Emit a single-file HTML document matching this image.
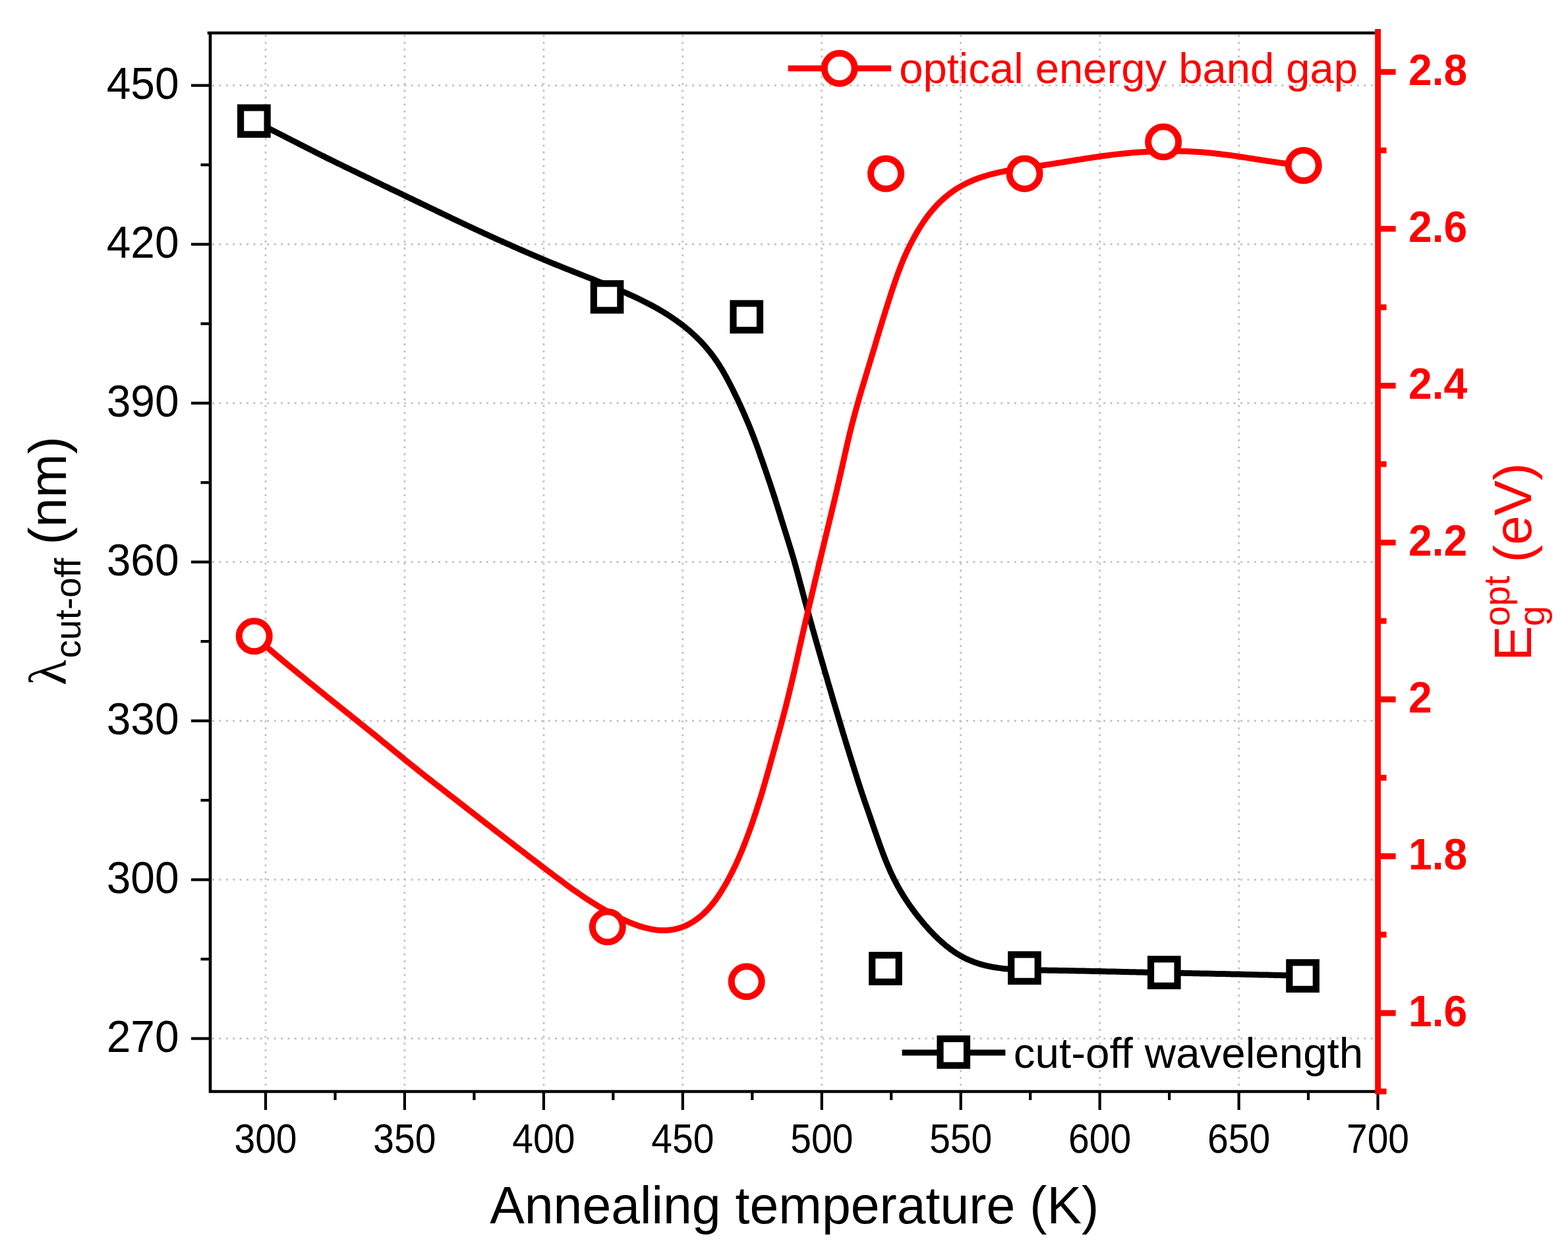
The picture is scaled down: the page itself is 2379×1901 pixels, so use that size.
<!DOCTYPE html>
<html><head><meta charset="utf-8"><title>Annealing temperature plot</title>
<style>html,body{margin:0;padding:0;background:#fff;overflow:hidden}svg{display:block}</style>
</head><body>
<svg width="2379" height="1901" viewBox="0 0 2379 1901">
<rect width="2379" height="1901" fill="#fff"/>
<path d="M403.0,53.0 V1654.0 M613.9,53.0 V1654.0 M824.9,53.0 V1654.0 M1035.8,53.0 V1654.0 M1246.8,53.0 V1654.0 M1457.7,53.0 V1654.0 M1668.6,53.0 V1654.0 M1879.6,53.0 V1654.0 M322.0,1575.6 H2086.6 M322.0,1334.6 H2086.6 M322.0,1093.7 H2086.6 M322.0,852.7 H2086.6 M322.0,611.7 H2086.6 M322.0,370.7 H2086.6 M322.0,129.7 H2086.6" stroke="#c2c2c2" stroke-width="2.8" stroke-dasharray="3 7.4" fill="none"/>
<path d="M385.4,183.7 L388.9,185.3 L392.3,187.1 L395.8,188.8 L399.2,190.6 L402.6,192.3 L406.1,194.0 L409.5,195.8 L412.9,197.5 L416.4,199.3 L419.8,201.0 L423.2,202.8 L426.7,204.5 L430.1,206.3 L433.5,208.1 L437.0,209.8 L440.4,211.6 L443.8,213.3 L447.3,215.1 L450.7,216.8 L454.1,218.6 L457.6,220.3 L461.0,222.1 L464.4,223.8 L467.9,225.5 L471.3,227.3 L474.8,229.0 L478.2,230.8 L481.6,232.5 L485.1,234.2 L488.5,235.9 L492.0,237.6 L495.4,239.4 L498.9,241.1 L502.3,242.8 L505.8,244.5 L509.3,246.2 L512.7,247.9 L516.2,249.5 L519.7,251.2 L523.1,252.9 L526.6,254.6 L530.1,256.3 L533.5,258.0 L537.0,259.6 L540.5,261.3 L543.9,263.0 L547.4,264.7 L550.9,266.3 L554.3,268.0 L557.8,269.7 L561.3,271.3 L564.8,273.0 L568.2,274.7 L571.7,276.4 L575.2,278.0 L578.7,279.7 L582.1,281.4 L585.6,283.1 L589.1,284.7 L592.5,286.4 L596.0,288.1 L599.5,289.7 L603.0,291.4 L606.4,293.1 L609.9,294.7 L613.4,296.4 L616.9,298.1 L620.3,299.8 L623.8,301.4 L627.3,303.1 L630.7,304.8 L634.2,306.4 L637.7,308.1 L641.2,309.8 L644.6,311.4 L648.1,313.1 L651.6,314.8 L655.1,316.4 L658.5,318.1 L662.0,319.8 L665.5,321.4 L669.0,323.1 L672.4,324.7 L675.9,326.4 L679.4,328.1 L682.9,329.7 L686.3,331.4 L689.8,333.1 L693.3,334.7 L696.8,336.4 L700.3,338.0 L703.7,339.7 L707.2,341.3 L710.7,343.0 L714.2,344.6 L717.7,346.2 L721.2,347.9 L724.7,349.5 L728.2,351.1 L731.7,352.7 L735.2,354.3 L738.7,355.9 L742.2,357.5 L745.7,359.1 L749.2,360.7 L752.7,362.3 L756.2,363.9 L759.8,365.5 L763.3,367.0 L766.8,368.6 L770.3,370.2 L773.8,371.7 L777.4,373.3 L780.9,374.9 L784.4,376.4 L787.9,378.0 L791.5,379.5 L795.0,381.0 L798.5,382.6 L802.1,384.1 L805.6,385.6 L809.1,387.2 L812.7,388.7 L816.2,390.2 L819.8,391.7 L823.3,393.2 L826.9,394.7 L830.4,396.1 L834.0,397.6 L837.6,399.1 L841.1,400.5 L844.7,402.0 L848.3,403.4 L851.9,404.8 L855.4,406.3 L859.0,407.7 L862.6,409.1 L866.2,410.5 L869.8,412.0 L873.3,413.4 L876.9,414.8 L880.5,416.2 L884.1,417.6 L887.7,419.1 L891.3,420.5 L894.9,421.9 L898.4,423.3 L902.0,424.7 L905.6,426.2 L909.2,427.6 L912.8,429.0 L916.3,430.5 L919.9,431.9 L923.5,433.4 L927.1,434.8 L930.6,436.3 L934.2,437.8 L937.7,439.3 L941.3,440.8 L944.8,442.4 L948.4,443.9 L951.9,445.5 L955.4,447.0 L958.9,448.6 L962.4,450.2 L965.9,451.9 L969.4,453.5 L972.9,455.2 L976.3,456.9 L979.8,458.7 L983.2,460.4 L986.6,462.2 L990.0,464.0 L993.4,465.9 L996.8,467.8 L1000.1,469.7 L1003.4,471.6 L1006.8,473.6 L1010.0,475.7 L1013.3,477.7 L1016.5,479.8 L1019.7,481.9 L1022.9,484.1 L1026.1,486.3 L1029.2,488.6 L1032.3,490.9 L1035.4,493.2 L1038.4,495.6 L1041.4,498.0 L1044.3,500.4 L1047.3,502.9 L1050.1,505.5 L1053.0,508.1 L1055.8,510.7 L1058.5,513.4 L1061.2,516.1 L1063.9,518.8 L1066.5,521.6 L1069.1,524.5 L1071.6,527.4 L1074.0,530.3 L1076.5,533.3 L1078.8,536.3 L1081.1,539.3 L1083.4,542.4 L1085.6,545.6 L1087.8,548.7 L1089.9,551.9 L1091.9,555.2 L1094.0,558.4 L1096.0,561.7 L1097.9,565.0 L1099.8,568.4 L1101.7,571.8 L1103.5,575.1 L1105.3,578.5 L1107.1,582.0 L1108.9,585.4 L1110.6,588.9 L1112.3,592.3 L1114.0,595.8 L1115.7,599.3 L1117.4,602.8 L1119.1,606.2 L1120.7,609.7 L1122.4,613.2 L1124.0,616.8 L1125.6,620.3 L1127.2,623.8 L1128.7,627.3 L1130.3,630.9 L1131.8,634.4 L1133.3,638.0 L1134.8,641.5 L1136.3,645.1 L1137.8,648.7 L1139.2,652.2 L1140.6,655.8 L1142.0,659.4 L1143.4,663.0 L1144.8,666.6 L1146.1,670.2 L1147.4,673.8 L1148.8,677.5 L1150.1,681.1 L1151.4,684.7 L1152.7,688.4 L1153.9,692.0 L1155.2,695.6 L1156.5,699.3 L1157.8,702.9 L1159.0,706.5 L1160.3,710.2 L1161.6,713.8 L1162.8,717.5 L1164.1,721.1 L1165.3,724.8 L1166.5,728.4 L1167.8,732.1 L1169.0,735.7 L1170.2,739.4 L1171.4,743.0 L1172.6,746.7 L1173.8,750.3 L1175.0,754.0 L1176.2,757.7 L1177.3,761.4 L1178.5,765.0 L1179.6,768.7 L1180.8,772.4 L1181.9,776.1 L1183.1,779.7 L1184.2,783.4 L1185.3,787.1 L1186.5,790.8 L1187.6,794.5 L1188.8,798.1 L1189.9,801.8 L1191.1,805.5 L1192.2,809.2 L1193.4,812.8 L1194.5,816.5 L1195.7,820.2 L1196.8,823.9 L1197.9,827.5 L1199.1,831.2 L1200.2,834.9 L1201.3,838.6 L1202.4,842.3 L1203.5,846.0 L1204.6,849.7 L1205.6,853.4 L1206.7,857.1 L1207.7,860.8 L1208.7,864.5 L1209.7,868.2 L1210.7,871.9 L1211.7,875.6 L1212.7,879.4 L1213.7,883.1 L1214.7,886.8 L1215.7,890.5 L1216.7,894.3 L1217.6,898.0 L1218.6,901.7 L1219.6,905.4 L1220.6,909.1 L1221.6,912.9 L1222.6,916.6 L1223.7,920.3 L1224.7,924.0 L1225.7,927.7 L1226.7,931.4 L1227.8,935.2 L1228.8,938.9 L1229.8,942.6 L1230.9,946.3 L1231.9,950.0 L1232.9,953.7 L1234.0,957.4 L1235.0,961.1 L1236.1,964.8 L1237.1,968.5 L1238.2,972.3 L1239.2,976.0 L1240.3,979.7 L1241.3,983.4 L1242.4,987.1 L1243.4,990.8 L1244.5,994.5 L1245.6,998.2 L1246.6,1001.9 L1247.7,1005.6 L1248.8,1009.3 L1249.9,1013.0 L1250.9,1016.7 L1252.0,1020.4 L1253.1,1024.1 L1254.2,1027.8 L1255.3,1031.5 L1256.3,1035.2 L1257.4,1038.9 L1258.5,1042.6 L1259.6,1046.3 L1260.7,1050.0 L1261.8,1053.7 L1262.8,1057.4 L1263.9,1061.1 L1265.0,1064.8 L1266.1,1068.5 L1267.2,1072.2 L1268.3,1075.9 L1269.4,1079.6 L1270.5,1083.3 L1271.6,1087.0 L1272.7,1090.6 L1273.8,1094.3 L1274.9,1098.0 L1276.0,1101.7 L1277.1,1105.4 L1278.2,1109.1 L1279.3,1112.8 L1280.5,1116.5 L1281.6,1120.2 L1282.7,1123.8 L1283.8,1127.5 L1285.0,1131.2 L1286.1,1134.9 L1287.3,1138.6 L1288.4,1142.2 L1289.5,1145.9 L1290.7,1149.6 L1291.8,1153.3 L1293.0,1157.0 L1294.1,1160.6 L1295.3,1164.3 L1296.4,1168.0 L1297.6,1171.7 L1298.7,1175.3 L1299.9,1179.0 L1301.0,1182.7 L1302.2,1186.4 L1303.4,1190.0 L1304.6,1193.7 L1305.8,1197.4 L1307.0,1201.0 L1308.2,1204.7 L1309.5,1208.3 L1310.7,1212.0 L1311.9,1215.6 L1313.2,1219.3 L1314.4,1222.9 L1315.7,1226.6 L1317.0,1230.2 L1318.2,1233.8 L1319.5,1237.5 L1320.8,1241.1 L1322.0,1244.8 L1323.3,1248.4 L1324.5,1252.1 L1325.8,1255.7 L1327.0,1259.4 L1328.3,1263.0 L1329.6,1266.7 L1330.8,1270.3 L1332.1,1273.9 L1333.4,1277.6 L1334.7,1281.2 L1336.0,1284.8 L1337.3,1288.5 L1338.7,1292.1 L1340.0,1295.7 L1341.4,1299.3 L1342.8,1302.9 L1344.2,1306.4 L1345.7,1310.0 L1347.2,1313.5 L1348.7,1317.1 L1350.2,1320.6 L1351.8,1324.1 L1353.5,1327.6 L1355.1,1331.0 L1356.8,1334.5 L1358.6,1337.9 L1360.4,1341.3 L1362.2,1344.7 L1364.1,1348.0 L1366.0,1351.4 L1368.0,1354.7 L1370.0,1358.0 L1372.1,1361.2 L1374.1,1364.5 L1376.3,1367.7 L1378.4,1370.9 L1380.6,1374.1 L1382.9,1377.2 L1385.2,1380.4 L1387.5,1383.5 L1389.8,1386.6 L1392.2,1389.6 L1394.6,1392.7 L1397.1,1395.7 L1399.5,1398.7 L1402.0,1401.6 L1404.6,1404.6 L1407.2,1407.5 L1409.8,1410.4 L1412.4,1413.2 L1415.1,1416.0 L1417.8,1418.8 L1420.5,1421.5 L1423.3,1424.2 L1426.1,1426.8 L1429.0,1429.4 L1431.9,1431.9 L1434.8,1434.4 L1437.8,1436.8 L1440.8,1439.1 L1443.9,1441.4 L1447.0,1443.6 L1450.1,1445.7 L1453.3,1447.7 L1456.6,1449.6 L1459.9,1451.5 L1463.2,1453.2 L1466.6,1454.9 L1470.1,1456.4 L1473.6,1457.9 L1477.1,1459.3 L1480.6,1460.6 L1484.2,1461.8 L1487.9,1462.9 L1491.5,1463.9 L1495.2,1464.8 L1498.9,1465.7 L1502.7,1466.5 L1506.4,1467.2 L1510.2,1467.8 L1514.0,1468.4 L1517.8,1468.9 L1521.6,1469.4 L1525.5,1469.8 L1529.3,1470.1 L1533.1,1470.4 L1537.0,1470.7 L1540.9,1470.9 L1544.7,1471.1 L1548.6,1471.3 L1552.4,1471.4 L1556.3,1471.5 L1560.2,1471.6 L1564.1,1471.7 L1567.9,1471.8 L1571.8,1471.9 L1575.7,1471.9 L1579.6,1472.0 L1583.4,1472.0 L1587.3,1472.1 L1591.2,1472.2 L1595.1,1472.2 L1598.9,1472.3 L1602.8,1472.3 L1606.7,1472.4 L1610.5,1472.5 L1614.4,1472.5 L1618.3,1472.6 L1622.1,1472.7 L1626.0,1472.8 L1629.8,1472.8 L1633.7,1472.9 L1637.6,1473.0 L1641.4,1473.0 L1645.3,1473.1 L1649.1,1473.2 L1653.0,1473.3 L1656.8,1473.4 L1660.7,1473.4 L1664.5,1473.5 L1668.4,1473.6 L1672.3,1473.7 L1676.1,1473.8 L1680.0,1473.9 L1683.8,1474.0 L1687.7,1474.0 L1691.5,1474.1 L1695.4,1474.2 L1699.2,1474.3 L1703.1,1474.4 L1706.9,1474.5 L1710.8,1474.6 L1714.6,1474.7 L1718.5,1474.8 L1722.3,1474.8 L1726.2,1474.9 L1730.0,1475.0 L1733.9,1475.1 L1737.7,1475.2 L1741.6,1475.3 L1745.5,1475.3 L1749.3,1475.4 L1753.2,1475.5 L1757.0,1475.6 L1760.9,1475.7 L1764.7,1475.7 L1768.6,1475.8 L1772.4,1475.9 L1776.3,1476.0 L1780.1,1476.0 L1784.0,1476.1 L1787.8,1476.2 L1791.7,1476.3 L1795.5,1476.3 L1799.4,1476.4 L1803.2,1476.5 L1807.1,1476.6 L1810.9,1476.7 L1814.8,1476.7 L1818.6,1476.8 L1822.5,1476.9 L1826.4,1477.0 L1830.2,1477.0 L1834.1,1477.1 L1837.9,1477.2 L1841.8,1477.3 L1845.6,1477.4 L1849.5,1477.4 L1853.3,1477.5 L1857.2,1477.6 L1861.0,1477.7 L1864.9,1477.8 L1868.7,1477.9 L1872.6,1478.0 L1876.4,1478.0 L1880.3,1478.1 L1884.1,1478.2 L1888.0,1478.3 L1891.8,1478.4 L1895.7,1478.5 L1899.6,1478.6 L1903.4,1478.7 L1907.3,1478.8 L1911.1,1478.9 L1915.0,1479.0 L1918.8,1479.0 L1922.7,1479.1 L1926.5,1479.2 L1930.4,1479.3 L1934.2,1479.4 L1938.1,1479.5 L1941.9,1479.6 L1945.8,1479.7 L1949.6,1479.8 L1953.5,1479.9 L1957.3,1480.0 L1961.2,1480.1 L1965.0,1480.2 L1968.9,1480.3 L1972.7,1480.5 L1976.6,1480.6" stroke="#000" stroke-width="9.0" fill="none" stroke-linejoin="round"/>
<path d="M385.7,965.3 L388.9,968.2 L392.1,970.9 L395.4,973.7 L398.6,976.5 L401.8,979.2 L405.1,982.0 L408.4,984.7 L411.6,987.5 L414.9,990.2 L418.1,993.0 L421.4,995.7 L424.7,998.5 L427.9,1001.2 L431.2,1003.9 L434.5,1006.7 L437.8,1009.4 L441.0,1012.1 L444.3,1014.8 L447.6,1017.5 L450.9,1020.2 L454.2,1022.9 L457.5,1025.6 L460.8,1028.3 L464.1,1031.0 L467.4,1033.7 L470.7,1036.4 L474.1,1039.1 L477.4,1041.8 L480.7,1044.5 L484.0,1047.2 L487.3,1049.8 L490.6,1052.5 L494.0,1055.2 L497.3,1057.9 L500.6,1060.5 L503.9,1063.2 L507.3,1065.9 L510.6,1068.5 L513.9,1071.2 L517.3,1073.9 L520.6,1076.5 L523.9,1079.2 L527.2,1081.9 L530.6,1084.5 L533.9,1087.2 L537.2,1089.9 L540.6,1092.5 L543.9,1095.2 L547.2,1097.9 L550.5,1100.5 L553.8,1103.2 L557.2,1105.9 L560.5,1108.6 L563.8,1111.3 L567.1,1113.9 L570.4,1116.6 L573.7,1119.3 L577.0,1122.0 L580.3,1124.7 L583.6,1127.4 L586.9,1130.1 L590.2,1132.8 L593.5,1135.5 L596.8,1138.2 L600.1,1140.9 L603.4,1143.6 L606.7,1146.3 L610.0,1149.0 L613.3,1151.7 L616.6,1154.4 L620.0,1157.1 L623.3,1159.8 L626.6,1162.4 L629.9,1165.1 L633.3,1167.8 L636.6,1170.4 L639.9,1173.1 L643.3,1175.7 L646.6,1178.4 L650.0,1181.0 L653.3,1183.6 L656.7,1186.2 L660.1,1188.9 L663.4,1191.5 L666.8,1194.1 L670.2,1196.7 L673.5,1199.3 L676.9,1202.0 L680.2,1204.6 L683.6,1207.2 L687.0,1209.8 L690.3,1212.4 L693.7,1215.1 L697.1,1217.7 L700.4,1220.3 L703.8,1222.9 L707.2,1225.5 L710.5,1228.2 L713.9,1230.8 L717.3,1233.4 L720.6,1236.0 L724.0,1238.6 L727.3,1241.3 L730.7,1243.9 L734.1,1246.5 L737.4,1249.1 L740.8,1251.7 L744.2,1254.3 L747.6,1257.0 L750.9,1259.6 L754.3,1262.2 L757.7,1264.8 L761.0,1267.4 L764.4,1270.0 L767.8,1272.6 L771.2,1275.2 L774.6,1277.8 L777.9,1280.4 L781.3,1283.0 L784.7,1285.6 L788.1,1288.2 L791.5,1290.8 L794.9,1293.4 L798.2,1296.0 L801.6,1298.6 L805.0,1301.2 L808.4,1303.8 L811.8,1306.4 L815.2,1308.9 L818.6,1311.5 L821.9,1314.1 L825.3,1316.7 L828.7,1319.3 L832.1,1321.9 L835.5,1324.4 L838.9,1327.0 L842.3,1329.6 L845.7,1332.1 L849.2,1334.7 L852.6,1337.2 L856.0,1339.8 L859.4,1342.3 L862.9,1344.8 L866.3,1347.3 L869.8,1349.8 L873.3,1352.2 L876.8,1354.7 L880.3,1357.1 L883.8,1359.5 L887.4,1361.9 L890.9,1364.2 L894.5,1366.6 L898.1,1368.9 L901.8,1371.1 L905.4,1373.4 L909.1,1375.6 L912.8,1377.8 L916.5,1379.9 L920.3,1382.1 L924.0,1384.2 L927.8,1386.2 L931.7,1388.2 L935.5,1390.2 L939.4,1392.2 L943.3,1394.1 L947.2,1395.9 L951.1,1397.7 L955.1,1399.4 L959.1,1401.0 L963.1,1402.6 L967.1,1404.0 L971.2,1405.4 L975.3,1406.6 L979.4,1407.7 L983.5,1408.7 L987.6,1409.6 L991.7,1410.3 L995.9,1410.9 L1000.0,1411.2 L1004.1,1411.4 L1008.3,1411.5 L1012.4,1411.3 L1016.4,1410.9 L1020.5,1410.4 L1024.5,1409.6 L1028.4,1408.6 L1032.4,1407.5 L1036.2,1406.1 L1040.0,1404.6 L1043.7,1402.9 L1047.3,1400.9 L1050.9,1398.9 L1054.3,1396.6 L1057.7,1394.2 L1061.0,1391.7 L1064.3,1389.0 L1067.4,1386.2 L1070.4,1383.2 L1073.4,1380.2 L1076.3,1377.0 L1079.0,1373.8 L1081.8,1370.5 L1084.4,1367.1 L1086.9,1363.6 L1089.4,1360.1 L1091.8,1356.5 L1094.1,1352.9 L1096.4,1349.2 L1098.6,1345.5 L1100.8,1341.7 L1102.9,1338.0 L1105.0,1334.2 L1107.0,1330.4 L1109.0,1326.5 L1111.0,1322.7 L1112.9,1318.8 L1114.7,1315.0 L1116.6,1311.1 L1118.4,1307.2 L1120.1,1303.2 L1121.9,1299.3 L1123.5,1295.4 L1125.2,1291.4 L1126.8,1287.5 L1128.4,1283.5 L1130.0,1279.5 L1131.5,1275.5 L1133.0,1271.6 L1134.5,1267.5 L1136.0,1263.5 L1137.5,1259.5 L1138.9,1255.5 L1140.3,1251.5 L1141.7,1247.4 L1143.1,1243.4 L1144.4,1239.4 L1145.8,1235.3 L1147.1,1231.3 L1148.4,1227.2 L1149.7,1223.2 L1151.0,1219.1 L1152.3,1215.0 L1153.6,1211.0 L1154.8,1206.9 L1156.1,1202.8 L1157.3,1198.7 L1158.5,1194.6 L1159.7,1190.5 L1160.9,1186.4 L1162.0,1182.3 L1163.2,1178.2 L1164.4,1174.1 L1165.5,1170.0 L1166.7,1165.9 L1167.8,1161.8 L1169.0,1157.7 L1170.1,1153.6 L1171.2,1149.5 L1172.4,1145.4 L1173.5,1141.3 L1174.7,1137.2 L1175.8,1133.1 L1176.9,1128.9 L1178.1,1124.8 L1179.2,1120.7 L1180.3,1116.6 L1181.4,1112.5 L1182.6,1108.4 L1183.7,1104.3 L1184.8,1100.1 L1185.9,1096.0 L1187.0,1091.9 L1188.1,1087.8 L1189.2,1083.7 L1190.2,1079.5 L1191.3,1075.4 L1192.4,1071.3 L1193.4,1067.1 L1194.4,1063.0 L1195.5,1058.9 L1196.5,1054.7 L1197.5,1050.6 L1198.5,1046.4 L1199.5,1042.3 L1200.5,1038.1 L1201.5,1034.0 L1202.5,1029.8 L1203.4,1025.7 L1204.4,1021.5 L1205.3,1017.4 L1206.3,1013.2 L1207.2,1009.1 L1208.2,1004.9 L1209.1,1000.7 L1210.0,996.6 L1211.0,992.4 L1211.9,988.3 L1212.8,984.1 L1213.7,979.9 L1214.7,975.8 L1215.6,971.6 L1216.5,967.5 L1217.5,963.3 L1218.4,959.1 L1219.4,955.0 L1220.3,950.8 L1221.3,946.7 L1222.2,942.5 L1223.2,938.4 L1224.2,934.2 L1225.2,930.1 L1226.1,925.9 L1227.1,921.8 L1228.1,917.6 L1229.1,913.5 L1230.1,909.3 L1231.1,905.2 L1232.0,901.0 L1233.0,896.9 L1234.0,892.7 L1235.0,888.6 L1236.0,884.4 L1236.9,880.3 L1237.9,876.1 L1238.9,872.0 L1239.9,867.8 L1240.9,863.7 L1241.8,859.5 L1242.8,855.4 L1243.8,851.2 L1244.8,847.1 L1245.8,842.9 L1246.8,838.8 L1247.8,834.6 L1248.8,830.5 L1249.8,826.3 L1250.8,822.2 L1251.8,818.0 L1252.8,813.9 L1253.8,809.8 L1254.8,805.6 L1255.8,801.5 L1256.8,797.3 L1257.8,793.2 L1258.8,789.0 L1259.8,784.9 L1260.8,780.7 L1261.8,776.6 L1262.8,772.5 L1263.8,768.3 L1264.8,764.2 L1265.8,760.0 L1266.8,755.9 L1267.7,751.7 L1268.7,747.6 L1269.7,743.4 L1270.6,739.2 L1271.6,735.1 L1272.5,730.9 L1273.5,726.8 L1274.4,722.6 L1275.4,718.5 L1276.3,714.3 L1277.3,710.1 L1278.2,706.0 L1279.1,701.8 L1280.1,697.7 L1281.0,693.5 L1281.9,689.3 L1282.9,685.2 L1283.8,681.0 L1284.8,676.9 L1285.7,672.7 L1286.7,668.5 L1287.7,664.4 L1288.6,660.3 L1289.6,656.1 L1290.7,652.0 L1291.7,647.8 L1292.7,643.7 L1293.8,639.6 L1294.9,635.5 L1296.0,631.3 L1297.1,627.2 L1298.2,623.1 L1299.3,619.0 L1300.5,614.9 L1301.7,610.8 L1302.8,606.7 L1304.0,602.6 L1305.2,598.5 L1306.4,594.4 L1307.6,590.3 L1308.8,586.2 L1310.1,582.2 L1311.3,578.1 L1312.5,574.0 L1313.7,569.9 L1315.0,565.8 L1316.2,561.7 L1317.5,557.7 L1318.7,553.6 L1319.9,549.5 L1321.2,545.4 L1322.4,541.3 L1323.6,537.2 L1324.8,533.2 L1326.1,529.1 L1327.3,525.0 L1328.5,520.9 L1329.7,516.8 L1330.9,512.7 L1332.2,508.6 L1333.4,504.6 L1334.6,500.5 L1335.9,496.4 L1337.1,492.3 L1338.4,488.2 L1339.6,484.2 L1340.9,480.1 L1342.2,476.0 L1343.4,471.9 L1344.7,467.9 L1346.0,463.8 L1347.3,459.7 L1348.6,455.7 L1349.9,451.6 L1351.2,447.5 L1352.5,443.5 L1353.9,439.4 L1355.2,435.4 L1356.6,431.4 L1358.0,427.3 L1359.4,423.3 L1360.8,419.3 L1362.2,415.3 L1363.7,411.3 L1365.2,407.3 L1366.7,403.3 L1368.3,399.3 L1369.9,395.4 L1371.5,391.5 L1373.3,387.6 L1375.0,383.7 L1376.8,379.8 L1378.7,376.0 L1380.5,372.1 L1382.5,368.3 L1384.5,364.5 L1386.5,360.8 L1388.6,357.0 L1390.7,353.3 L1392.9,349.6 L1395.1,346.0 L1397.4,342.4 L1399.7,338.8 L1402.1,335.3 L1404.5,331.8 L1407.0,328.3 L1409.6,324.9 L1412.3,321.6 L1415.0,318.4 L1417.8,315.2 L1420.6,312.0 L1423.6,309.0 L1426.6,306.0 L1429.7,303.1 L1432.8,300.3 L1436.0,297.6 L1439.3,294.9 L1442.7,292.4 L1446.1,289.9 L1449.6,287.6 L1453.2,285.3 L1456.8,283.1 L1460.5,281.1 L1464.2,279.1 L1468.0,277.3 L1471.8,275.5 L1475.7,273.8 L1479.6,272.2 L1483.6,270.7 L1487.6,269.3 L1491.6,268.0 L1495.7,266.7 L1499.8,265.5 L1503.9,264.4 L1508.0,263.4 L1512.1,262.4 L1516.3,261.4 L1520.5,260.6 L1524.7,259.7 L1528.9,258.9 L1533.1,258.2 L1537.3,257.4 L1541.5,256.7 L1545.8,256.1 L1550.0,255.4 L1554.2,254.8 L1558.5,254.2 L1562.7,253.6 L1567.0,253.0 L1571.2,252.4 L1575.4,251.8 L1579.7,251.2 L1583.9,250.5 L1588.1,249.9 L1592.4,249.3 L1596.6,248.6 L1600.8,248.0 L1605.0,247.3 L1609.3,246.6 L1613.5,246.0 L1617.7,245.3 L1621.9,244.6 L1626.1,243.9 L1630.3,243.2 L1634.5,242.5 L1638.8,241.9 L1643.0,241.2 L1647.2,240.5 L1651.4,239.9 L1655.6,239.2 L1659.8,238.6 L1664.1,238.0 L1668.3,237.4 L1672.5,236.8 L1676.7,236.2 L1680.9,235.7 L1685.2,235.1 L1689.4,234.6 L1693.6,234.1 L1697.9,233.6 L1702.1,233.2 L1706.4,232.8 L1710.6,232.4 L1714.9,232.0 L1719.1,231.6 L1723.4,231.3 L1727.6,231.0 L1731.9,230.7 L1736.1,230.4 L1740.4,230.2 L1744.6,229.9 L1748.9,229.7 L1753.2,229.6 L1757.4,229.4 L1761.7,229.3 L1765.9,229.2 L1770.2,229.2 L1774.5,229.2 L1778.7,229.2 L1783.0,229.2 L1787.3,229.2 L1791.5,229.3 L1795.8,229.4 L1800.0,229.6 L1804.3,229.8 L1808.6,230.0 L1812.8,230.2 L1817.1,230.5 L1821.3,230.8 L1825.6,231.1 L1829.8,231.4 L1834.0,231.8 L1838.3,232.2 L1842.5,232.7 L1846.8,233.2 L1851.0,233.6 L1855.2,234.2 L1859.5,234.7 L1863.7,235.3 L1867.9,235.8 L1872.1,236.4 L1876.4,237.0 L1880.6,237.7 L1884.8,238.3 L1889.0,238.9 L1893.2,239.6 L1897.4,240.2 L1901.6,240.9 L1905.9,241.6 L1910.1,242.2 L1914.3,242.9 L1918.5,243.5 L1922.7,244.2 L1926.9,244.8 L1931.2,245.4 L1935.4,246.0 L1939.6,246.6 L1943.8,247.2 L1948.0,247.8 L1952.3,248.3 L1956.5,248.9 L1960.7,249.4 L1965.0,250.0 L1969.2,250.5 L1973.4,251.0 L1977.7,251.1" stroke="#f00" stroke-width="9.0" fill="none" stroke-linejoin="round"/>
<rect x="365.1" y="163.4" width="40.5" height="40.5" fill="#fff" stroke="#000" stroke-width="10.2"/>
<rect x="900.8" y="430.2" width="40.5" height="40.5" fill="#fff" stroke="#000" stroke-width="10.2"/>
<rect x="1112.5" y="460.4" width="40.5" height="40.5" fill="#fff" stroke="#000" stroke-width="10.2"/>
<rect x="1323.2" y="1449.2" width="40.5" height="40.5" fill="#fff" stroke="#000" stroke-width="10.2"/>
<rect x="1534.2" y="1448.3" width="40.5" height="40.5" fill="#fff" stroke="#000" stroke-width="10.2"/>
<rect x="1746.0" y="1455.2" width="40.5" height="40.5" fill="#fff" stroke="#000" stroke-width="10.2"/>
<rect x="1956.3" y="1460.3" width="40.5" height="40.5" fill="#fff" stroke="#000" stroke-width="10.2"/>
<circle cx="385.7" cy="965.3" r="23.0" fill="#fff" stroke="#f00" stroke-width="10.0"/>
<circle cx="921.8" cy="1406.2" r="23.0" fill="#fff" stroke="#f00" stroke-width="10.0"/>
<circle cx="1132.7" cy="1489.2" r="23.0" fill="#fff" stroke="#f00" stroke-width="10.0"/>
<circle cx="1344.1" cy="263.4" r="23.0" fill="#fff" stroke="#f00" stroke-width="10.0"/>
<circle cx="1554.5" cy="263.4" r="23.0" fill="#fff" stroke="#f00" stroke-width="10.0"/>
<circle cx="1765.1" cy="215.3" r="23.0" fill="#fff" stroke="#f00" stroke-width="10.0"/>
<circle cx="1977.7" cy="251.1" r="23.0" fill="#fff" stroke="#f00" stroke-width="10.0"/>
<path d="M319.0,50.0 V1656.0 H2090.6 M317.0,50.0 H2090.6" stroke="#000" stroke-width="4.6" fill="none" stroke-linecap="square"/>
<path d="M319.0,1575.6 H290.0 M319.0,1334.6 H290.0 M319.0,1093.7 H290.0 M319.0,852.7 H290.0 M319.0,611.7 H290.0 M319.0,370.7 H290.0 M319.0,129.7 H290.0 M319.0,1455.1 H304.5 M319.0,1214.2 H304.5 M319.0,973.2 H304.5 M319.0,732.2 H304.5 M319.0,491.2 H304.5 M319.0,250.2 H304.5 M403.0,1656.0 V1684.0 M613.9,1656.0 V1684.0 M824.9,1656.0 V1684.0 M1035.8,1656.0 V1684.0 M1246.8,1656.0 V1684.0 M1457.7,1656.0 V1684.0 M1668.6,1656.0 V1684.0 M1879.6,1656.0 V1684.0 M2090.5,1656.0 V1684.0 M508.5,1656.0 V1669.0 M719.4,1656.0 V1669.0 M930.3,1656.0 V1669.0 M1141.3,1656.0 V1669.0 M1352.2,1656.0 V1669.0 M1563.2,1656.0 V1669.0 M1774.1,1656.0 V1669.0 M1985.0,1656.0 V1669.0" stroke="#000" stroke-width="4.2" fill="none"/>
<path d="M2090.6,44 V1660 M2090.6,1537.0 H2117.6 M2090.6,1299.0 H2117.6 M2090.6,1061.0 H2117.6 M2090.6,823.1 H2117.6 M2090.6,585.1 H2117.6 M2090.6,347.2 H2117.6 M2090.6,109.2 H2117.6 M2090.6,1655.9 H2103.6 M2090.6,1418.0 H2103.6 M2090.6,1180.0 H2103.6 M2090.6,942.1 H2103.6 M2090.6,704.1 H2103.6 M2090.6,466.1 H2103.6 M2090.6,228.2 H2103.6" stroke="#f00" stroke-width="8.8" fill="none"/>
<text transform="translate(271.6,1595.9) scale(0.96,1)" font-family="'Liberation Sans', Arial, sans-serif" font-size="68.6" text-anchor="end">270</text>
<text transform="translate(271.6,1354.9) scale(0.96,1)" font-family="'Liberation Sans', Arial, sans-serif" font-size="68.6" text-anchor="end">300</text>
<text transform="translate(271.6,1114.0) scale(0.96,1)" font-family="'Liberation Sans', Arial, sans-serif" font-size="68.6" text-anchor="end">330</text>
<text transform="translate(271.6,873.0) scale(0.96,1)" font-family="'Liberation Sans', Arial, sans-serif" font-size="68.6" text-anchor="end">360</text>
<text transform="translate(271.6,632.0) scale(0.96,1)" font-family="'Liberation Sans', Arial, sans-serif" font-size="68.6" text-anchor="end">390</text>
<text transform="translate(271.6,391.0) scale(0.96,1)" font-family="'Liberation Sans', Arial, sans-serif" font-size="68.6" text-anchor="end">420</text>
<text transform="translate(271.6,150.0) scale(0.96,1)" font-family="'Liberation Sans', Arial, sans-serif" font-size="68.6" text-anchor="end">450</text>
<text transform="translate(403.0,1748.6) scale(0.918,1)" font-family="'Liberation Sans', Arial, sans-serif" font-size="62.1" text-anchor="middle">300</text>
<text transform="translate(613.9,1748.6) scale(0.918,1)" font-family="'Liberation Sans', Arial, sans-serif" font-size="62.1" text-anchor="middle">350</text>
<text transform="translate(824.9,1748.6) scale(0.918,1)" font-family="'Liberation Sans', Arial, sans-serif" font-size="62.1" text-anchor="middle">400</text>
<text transform="translate(1035.8,1748.6) scale(0.918,1)" font-family="'Liberation Sans', Arial, sans-serif" font-size="62.1" text-anchor="middle">450</text>
<text transform="translate(1246.8,1748.6) scale(0.918,1)" font-family="'Liberation Sans', Arial, sans-serif" font-size="62.1" text-anchor="middle">500</text>
<text transform="translate(1457.7,1748.6) scale(0.918,1)" font-family="'Liberation Sans', Arial, sans-serif" font-size="62.1" text-anchor="middle">550</text>
<text transform="translate(1668.6,1748.6) scale(0.918,1)" font-family="'Liberation Sans', Arial, sans-serif" font-size="62.1" text-anchor="middle">600</text>
<text transform="translate(1879.6,1748.6) scale(0.918,1)" font-family="'Liberation Sans', Arial, sans-serif" font-size="62.1" text-anchor="middle">650</text>
<text transform="translate(2090.5,1748.6) scale(0.918,1)" font-family="'Liberation Sans', Arial, sans-serif" font-size="62.1" text-anchor="middle">700</text>
<text transform="translate(2137.0,1557.0) scale(0.954,1)" font-family="'Liberation Sans', Arial, sans-serif" font-size="67.2" font-weight="bold" fill="#f00">1.6</text>
<text transform="translate(2137.0,1319.0) scale(0.954,1)" font-family="'Liberation Sans', Arial, sans-serif" font-size="67.2" font-weight="bold" fill="#f00">1.8</text>
<text transform="translate(2137.0,1081.0) scale(0.954,1)" font-family="'Liberation Sans', Arial, sans-serif" font-size="67.2" font-weight="bold" fill="#f00">2</text>
<text transform="translate(2137.0,843.1) scale(0.954,1)" font-family="'Liberation Sans', Arial, sans-serif" font-size="67.2" font-weight="bold" fill="#f00">2.2</text>
<text transform="translate(2137.0,605.1) scale(0.954,1)" font-family="'Liberation Sans', Arial, sans-serif" font-size="67.2" font-weight="bold" fill="#f00">2.4</text>
<text transform="translate(2137.0,367.2) scale(0.954,1)" font-family="'Liberation Sans', Arial, sans-serif" font-size="67.2" font-weight="bold" fill="#f00">2.6</text>
<text transform="translate(2137.0,129.2) scale(0.954,1)" font-family="'Liberation Sans', Arial, sans-serif" font-size="67.2" font-weight="bold" fill="#f00">2.8</text>
<text transform="translate(743.2,1855.8) scale(0.985,1)" font-family="'Liberation Sans', Arial, sans-serif" font-size="80">Annealing temperature (K)</text>
<g transform="translate(100,1038.3) rotate(-90)"><text x="-1.5" y="0" font-family="'Liberation Serif', serif" font-size="80">λ</text><text x="39.9" y="22" font-family="'Liberation Sans', Arial, sans-serif" font-size="55">cut-off</text><text x="211.8" y="0" font-family="'Liberation Sans', Arial, sans-serif" font-size="80">(nm)</text></g>
<g transform="translate(2322.6,996.3) rotate(-90)" fill="#f00"><text x="-6.4" y="0" font-family="'Liberation Sans', Arial, sans-serif" font-size="80">E</text><text x="46.3" y="20.4" font-family="'Liberation Sans', Arial, sans-serif" font-size="56">g</text><text x="46.3" y="-33" font-family="'Liberation Sans', Arial, sans-serif" font-size="55">opt</text><text x="142.9" y="0" font-family="'Liberation Sans', Arial, sans-serif" font-size="80">(eV)</text></g>
<path d="M1195.7,103.8 H1352.2" stroke="#f00" stroke-width="9.0"/>
<circle cx="1273.7" cy="103.8" r="23.0" fill="#fff" stroke="#f00" stroke-width="10.0"/>
<text x="1364.2" y="125.5" font-family="'Liberation Sans', Arial, sans-serif" font-size="65.2" fill="#f00">optical energy band gap</text>
<path d="M1368.6,1596.9 H1525.4" stroke="#000" stroke-width="9.0"/>
<rect x="1426.5" y="1576.0" width="40.5" height="40.5" fill="#fff" stroke="#000" stroke-width="10.2"/>
<text x="1537.8" y="1619.6" font-family="'Liberation Sans', Arial, sans-serif" font-size="65.5">cut-off wavelength</text>
</svg>
</body></html>
